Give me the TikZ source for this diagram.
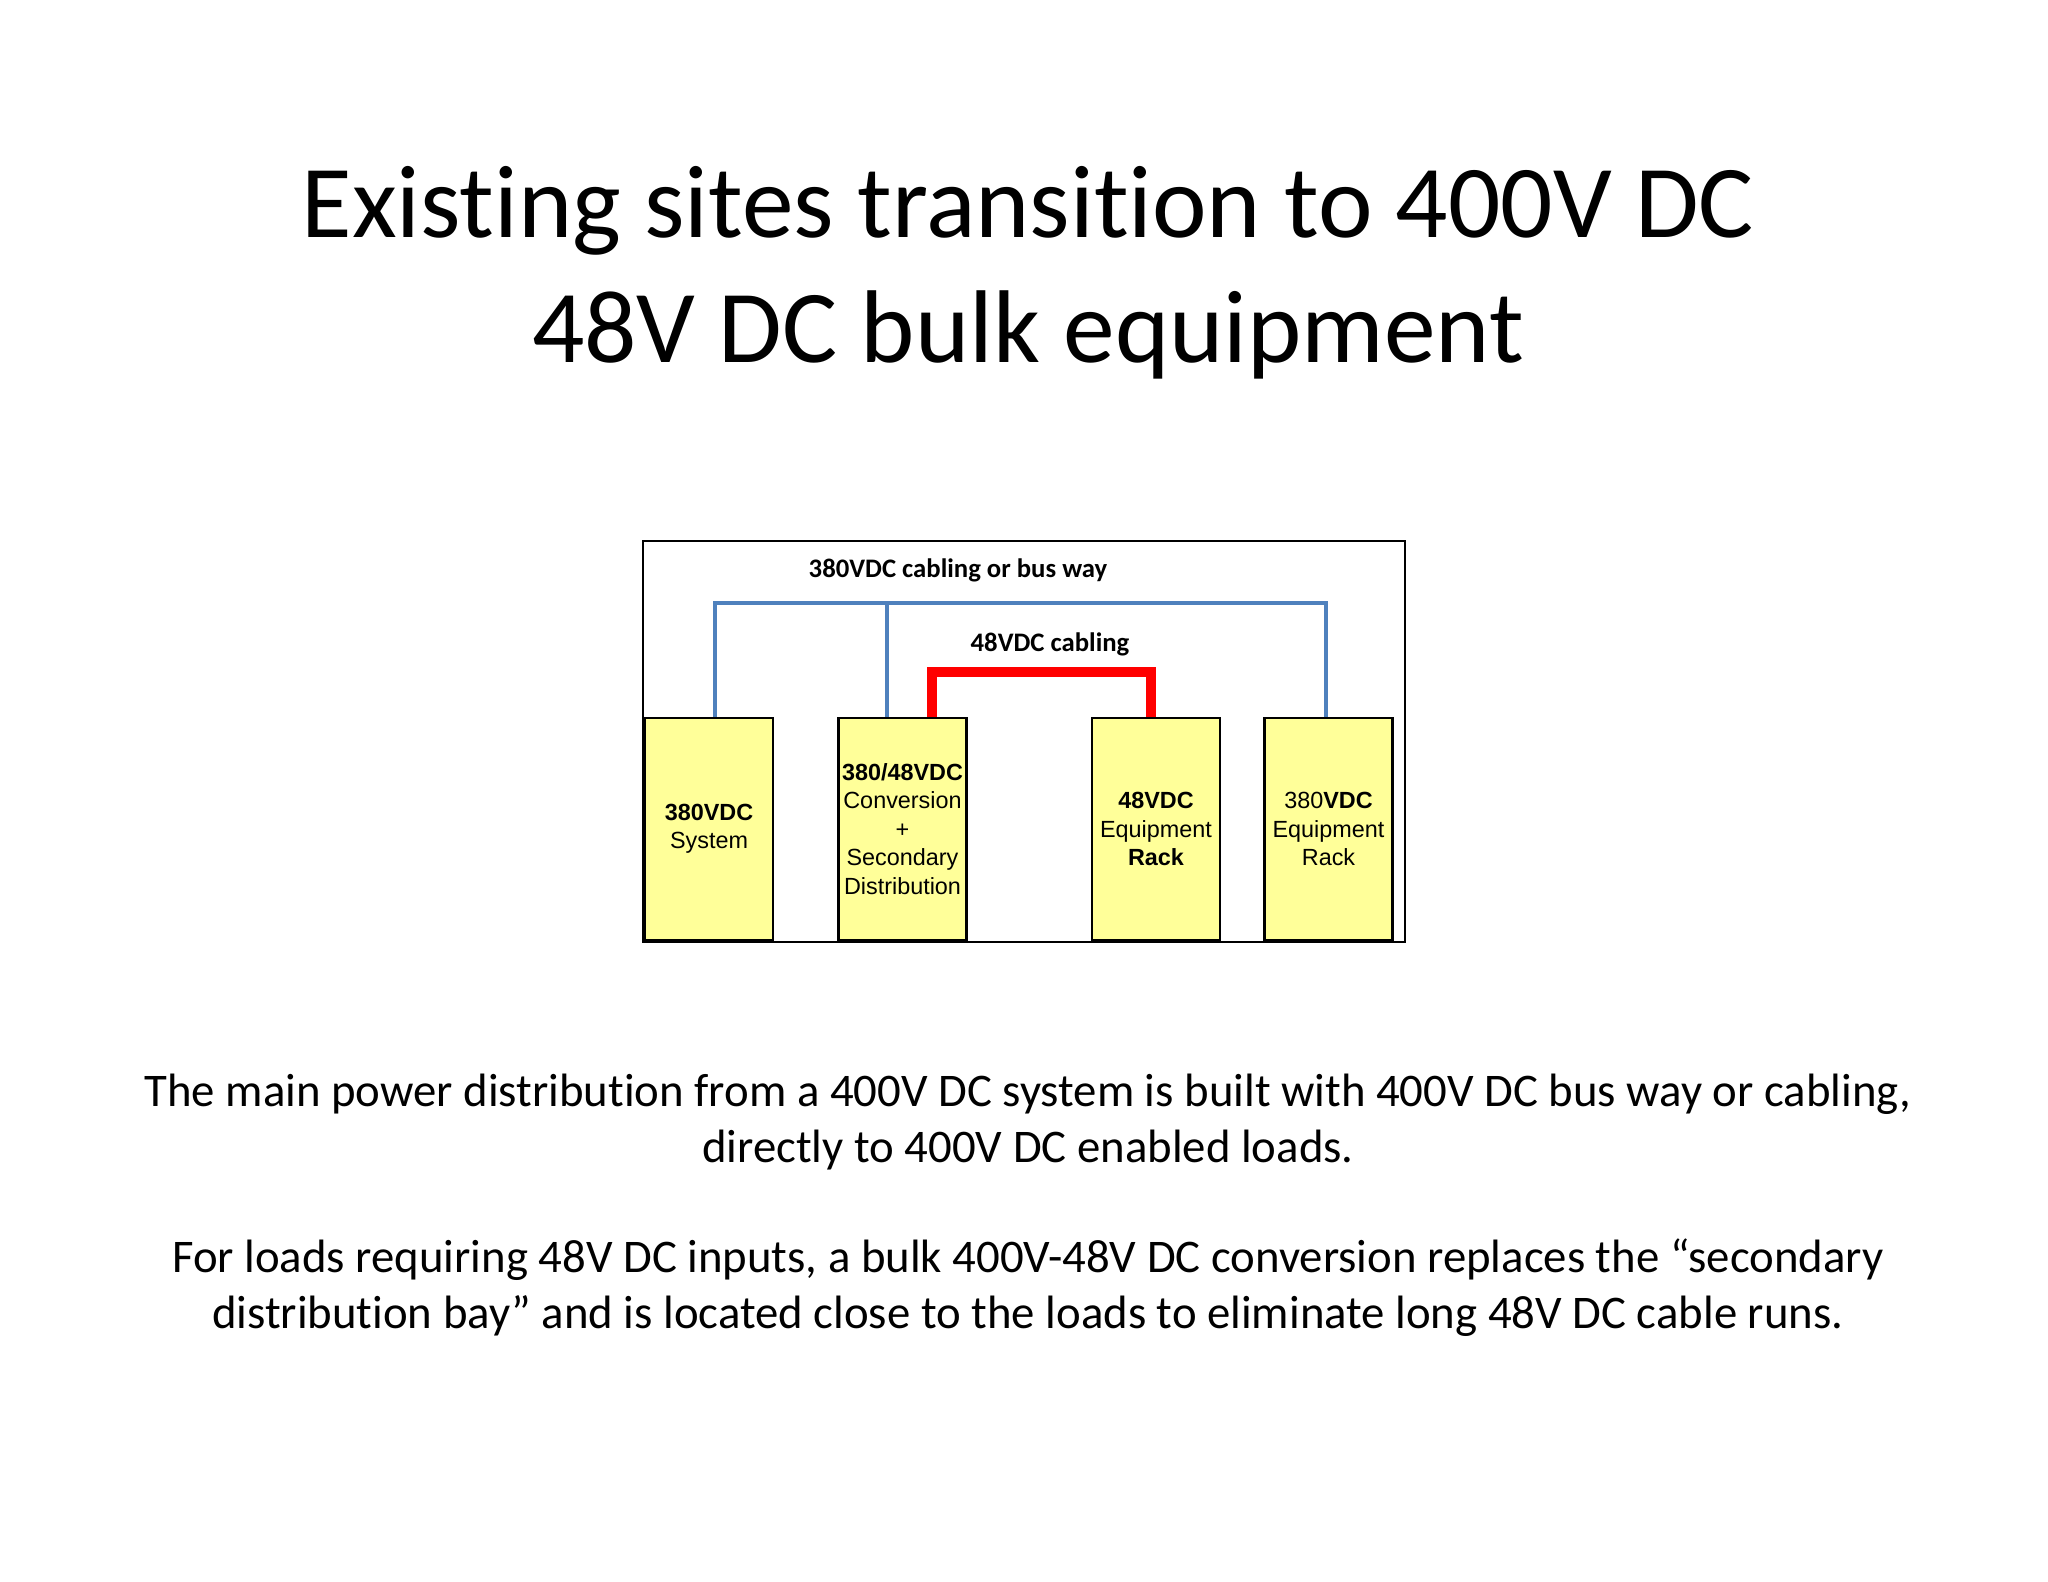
\documentclass[tikz,border=0pt]{standalone}
\usepackage{fontspec}
\setmainfont{Carlito}[Ligatures=NoCommon]
\newfontfamily\rackfont{Liberation Sans}
\definecolor{busblue}{HTML}{4F81BD}
\definecolor{rackyellow}{HTML}{FFFF99}
\begin{document}
\begin{tikzpicture}[x=0.01cm, y=-0.01cm,
    rack/.style={draw=black, line width=0.6pt, fill=rackyellow, minimum width=1.28cm,
        minimum height=2.22cm, align=center, inner sep=0pt, font=\rackfont\fontsize{6.65}{8.1}\selectfont},
    bus/.style={draw=busblue, line width=1.1pt},
    dccable/.style={draw=red, line width=2.8pt, line join=miter},
    cablelabel/.style={font=\bfseries\fontsize{7.6}{9}\selectfont, anchor=base},
    notetext/.style={font=\fontsize{13.3}{15.8}\selectfont, align=center, anchor=base}]
    \useasboundingbox (0,0) rectangle (2048,1582);

    % Title (base = last line)
    \node[font=\fontsize{29.4}{35.3}\selectfont, align=center, anchor=base] (title) at (1028,362)
        {Existing sites transition to 400V DC\\48V DC bulk equipment};

    % Frame round the diagram
    \draw[line width=0.6pt] (643,541) rectangle (1405,942);

    % Racks
    \node[rack] (sys) at (709,829) {\textbf{380VDC}\\System};
    \node[rack] (conv) at (902.5,829) {\textbf{380/48VDC}\\Conversion\\+\\Secondary\\Distribution};
    \node[rack] (load48) at (1156,829) {\textbf{48VDC}\\Equipment\\\textbf{Rack}};
    \node[rack] (load380) at (1328.5,829) {380\textbf{VDC}\\Equipment\\Rack};

    % Cable labels
    \node[cablelabel] (buslabel) at (958,577) {380VDC cabling or bus way};
    \node[cablelabel] (cablelabel48) at (1050,651) {48VDC cabling};

    % 380VDC bus
    \coordinate (busy) at (0,603);
    \coordinate (s1) at ([xshift=0.06cm]sys.north);
    \coordinate (s2) at ([xshift=-0.155cm]conv.north);
    \coordinate (s4) at ([xshift=-0.025cm]load380.north);
    \draw[bus] (s1) -- (s1 |- busy) -- (s4 |- busy) -- (s4);
    \draw[bus] (s2) -- (s2 |- busy);

    % 48VDC cabling
    \coordinate (redy) at (0,672);
    \coordinate (r2) at ([xshift=0.295cm]conv.north);
    \coordinate (r3) at ([xshift=-0.05cm]load48.north);
    \draw[dccable] (r2) -- (r2 |- redy) -- (r3 |- redy) -- (r3);

    % Notes below
    \node[notetext] (intro) at (1028,1162)
        {The main power distribution from a 400V DC system is built with 400V DC bus way or cabling,\\directly to 400V DC enabled loads.};
    \node[notetext] (note) at (1028,1328)
        {For loads requiring 48V DC inputs, a bulk 400V-48V DC conversion replaces the “secondary\\distribution bay” and is located close to the loads to eliminate long 48V DC cable runs.};
\end{tikzpicture}
\end{document}
